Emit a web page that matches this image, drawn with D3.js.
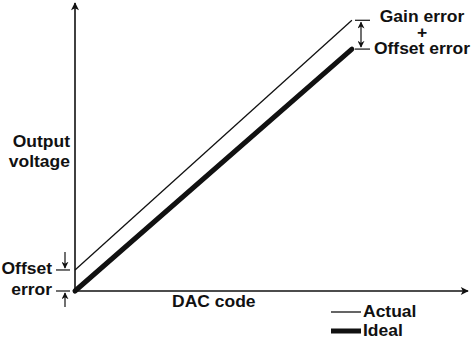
<!DOCTYPE html>
<html>
<head>
<meta charset="utf-8">
<script src="https://cdn.jsdelivr.net/npm/d3@7"></script>
<style>
  html, body { margin: 0; padding: 0; background: #fff; }
  svg { display: block; }
  text { font-family: "Liberation Sans", Arial, Helvetica, sans-serif; font-weight: bold; fill: #111; }
</style>
</head>
<body>
<svg id="chart" width="474" height="338"></svg>
<script>
// DAC transfer characteristic: ideal vs. actual (offset + gain error)
const codes = [0, 71];
const idealValues = [0, 84];
const actualValues = [7.3, 94];
const legendLabels = ["Actual", "Ideal"];
const yAxisLabel = ["Output", "voltage"];
const xAxisLabel = "DAC code";
const offsetLabel = ["Offset", "error"];
const gainLabel = ["Gain error", "+", "Offset error"];

const svg = d3.select("#chart");
const ink = "#111";

const x = d3.scaleLinear().domain([0, 100]).range([75, 465]);
const y = d3.scaleLinear().domain([0, 100]).range([291, 3]);

// arrow markers
const defs = svg.append("defs");
defs.append("marker").attr("id", "head")
  .attr("viewBox", "0 0 10 10").attr("refX", 9).attr("refY", 5)
  .attr("markerWidth", 9).attr("markerHeight", 8).attr("markerUnits", "userSpaceOnUse")
  .attr("orient", "auto-start-reverse")
  .append("path").attr("d", "M0,0 L10,5 L0,10 L2.5,5 Z").attr("fill", ink);
defs.append("marker").attr("id", "small")
  .attr("viewBox", "0 0 10 10").attr("refX", 9).attr("refY", 5)
  .attr("markerWidth", 7).attr("markerHeight", 7).attr("markerUnits", "userSpaceOnUse")
  .attr("orient", "auto-start-reverse")
  .append("path").attr("d", "M0,0 L10,5 L0,10 L3,5 Z").attr("fill", ink);

// axes
svg.append("line")
  .attr("x1", x(0)).attr("y1", y(0)).attr("x2", x(0)).attr("y2", y(100))
  .attr("stroke", ink).attr("stroke-width", 1.6).attr("marker-end", "url(#head)");
svg.append("line")
  .attr("x1", x(0)).attr("y1", y(0)).attr("x2", x(100) + 3).attr("y2", y(0))
  .attr("stroke", ink).attr("stroke-width", 1.6).attr("marker-end", "url(#head)");

// transfer lines
const line = d3.line().x(d => x(d[0])).y(d => y(d[1]));
svg.append("path")
  .datum(codes.map((c, i) => [c, idealValues[i]]))
  .attr("d", line).attr("fill", "none").attr("stroke", ink)
  .attr("stroke-width", 5).attr("stroke-linecap", "round");
svg.append("path")
  .datum(codes.map((c, i) => [c, actualValues[i]]))
  .attr("d", line).attr("fill", "none").attr("stroke", ink)
  .attr("stroke-width", 1.3);

// text helper with a slightly wide face
function label(px, py, str, anchor) {
  svg.append("text")
    .attr("transform", `translate(${px},${py}) scale(1.06,1)`)
    .attr("text-anchor", anchor)
    .attr("font-size", 16.5)
    .text(str);
}

// y axis label
label(70, 147, yAxisLabel[0], "end");
label(70, 167, yAxisLabel[1], "end");
// x axis label
label(172, 307, xAxisLabel, "start");

// offset error annotation
const off0 = y(actualValues[0]), base = y(0);
[off0, base].forEach(v => svg.append("line")
  .attr("x1", 56).attr("x2", 70).attr("y1", v).attr("y2", v)
  .attr("stroke", ink).attr("stroke-width", 1.2));
svg.append("line").attr("x1", 65).attr("x2", 65).attr("y1", off0 - 18).attr("y2", off0 - 2)
  .attr("stroke", ink).attr("stroke-width", 1.2).attr("marker-end", "url(#small)");
svg.append("line").attr("x1", 65).attr("x2", 65).attr("y1", base + 16).attr("y2", base + 2)
  .attr("stroke", ink).attr("stroke-width", 1.2).attr("marker-end", "url(#small)");
label(52, 274, offsetLabel[0], "end");
label(52, 295, offsetLabel[1], "end");

// gain + offset error annotation
const gTop = y(actualValues[1]), gBot = y(idealValues[1]);
[gTop, gBot].forEach(v => svg.append("line")
  .attr("x1", 355).attr("x2", 370).attr("y1", v).attr("y2", v)
  .attr("stroke", ink).attr("stroke-width", 1.2));
svg.append("line").attr("x1", 361).attr("x2", 361).attr("y1", gTop + 2).attr("y2", gBot - 2)
  .attr("stroke", ink).attr("stroke-width", 1.2)
  .attr("marker-start", "url(#small)").attr("marker-end", "url(#small)");
label(422, 22, gainLabel[0], "middle");
label(422, 38, gainLabel[1], "middle");
label(422, 54, gainLabel[2], "middle");

// legend
const legend = [
  { name: legendLabels[0], w: 1.3, y: 312 },
  { name: legendLabels[1], w: 5, y: 331 }
];
legend.forEach(d => {
  svg.append("line").attr("x1", 331).attr("x2", 361).attr("y1", d.y).attr("y2", d.y)
    .attr("stroke", ink).attr("stroke-width", d.w);
  label(363, d.y + 5, d.name, "start");
});
</script>
</body>
</html>
